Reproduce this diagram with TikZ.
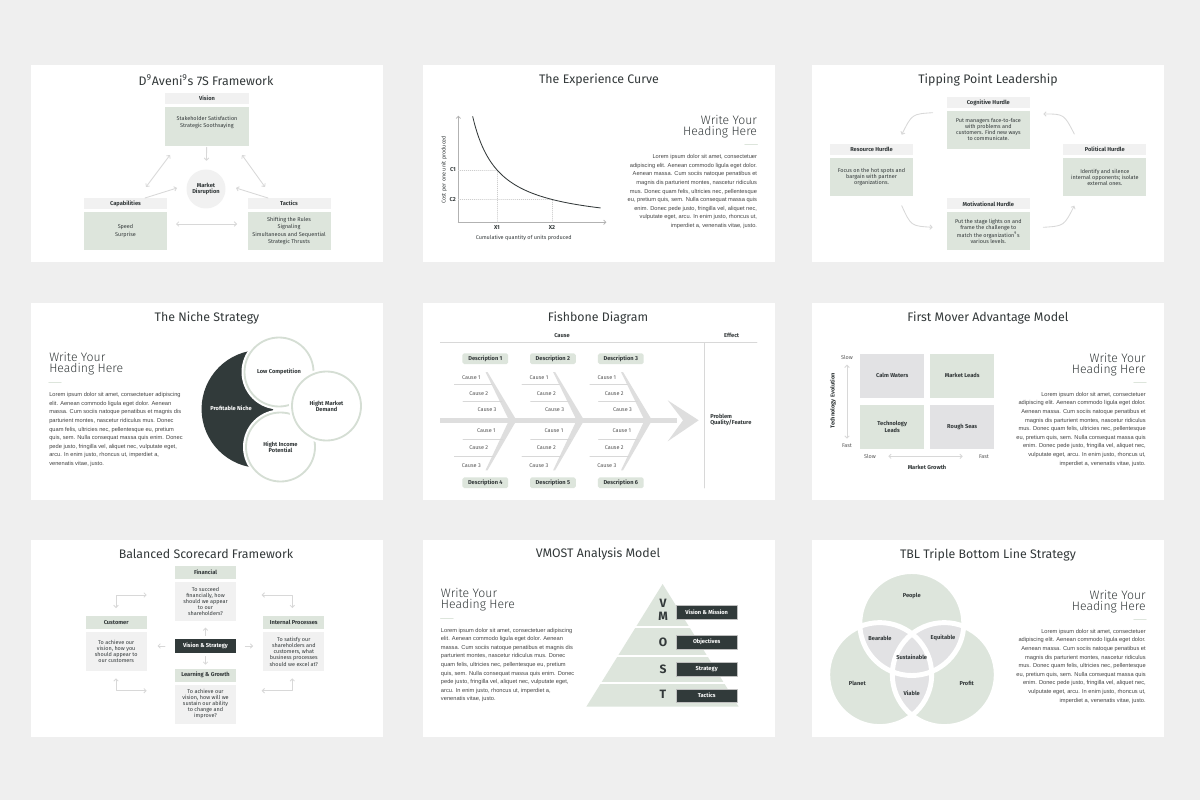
\documentclass[tikz,border=0pt]{standalone}
\usepackage{fontspec}
\setmainfont{Fira Sans}
\newfontfamily\deckLoremFamily{Liberation Sans}
\IfFontExistsTF{Fira Sans Light}
  {\newfontfamily\deckLightFamily{Fira Sans Light}}
  {\newfontfamily\deckLightFamily{Fira Sans}}
\usetikzlibrary{arrows.meta,positioning,calc}
\definecolor{deckbg}{HTML}{EFEFEF}
\definecolor{deckink}{HTML}{33393A}
\definecolor{decklorem}{HTML}{444444}
\definecolor{decksage}{HTML}{DDE5DC}
\definecolor{deckbar}{HTML}{F1F1F1}
\definecolor{deckquad}{HTML}{E2E2E4}
\definecolor{deckdark}{HTML}{313A3A}
\definecolor{deckline}{HTML}{D8D8D8}
\definecolor{deckring}{HTML}{D5DED4}
\definecolor{deckbone}{HTML}{DEDEDE}
\definecolor{deckcause}{HTML}{555555}
\newcommand{\pxu}{0.025cm}
\newcommand{\deckTitle}{\fontsize{8.8}{10}\selectfont}
\newcommand{\deckHead}{\deckLightFamily\fontsize{8.7}{7.8}\selectfont}
\newcommand{\deckLabel}{\fontsize{3.9}{4.3}\selectfont}
\newcommand{\deckLoose}{\fontsize{3.9}{5.4}\selectfont}
\newcommand{\deckTag}{\fontsize{4.05}{4.5}\selectfont\bfseries}
\newcommand{\deckLetter}{\fontsize{8.6}{9}\selectfont\bfseries}
\newcommand{\deckLorem}{\deckLoremFamily\fontsize{4.05}{6.1}\selectfont}
\newcommand{\deckApos}{\textsuperscript{9}}
\newcommand{\loremright}{Lorem ipsum dolor sit amet, consectetuer\\adipiscing elit. Aenean commodo ligula eget dolor.\\Aenean massa. Cum sociis natoque penatibus et\\magnis dis parturient montes, nascetur ridiculus\\mus. Donec quam felis, ultricies nec, pellentesque\\eu, pretium quis, sem. Nulla consequat massa quis\\enim. Donec pede justo, fringilla vel, aliquet nec,\\vulputate eget, arcu. In enim justo, rhoncus ut,\\imperdiet a, venenatis vitae, justo.}
\newcommand{\loremleft}{Lorem ipsum dolor sit amet, consectetuer adipiscing\\elit. Aenean commodo ligula eget dolor. Aenean\\massa. Cum sociis natoque penatibus et magnis dis\\parturient montes, nascetur ridiculus mus. Donec\\quam felis, ultricies nec, pellentesque eu, pretium\\quis, sem. Nulla consequat massa quis enim. Donec\\pede justo, fringilla vel, aliquet nec, vulputate eget,\\arcu. In enim justo, rhoncus ut, imperdiet a,\\venenatis vitae, justo.}

\begin{document}
\begin{tikzpicture}[x=\pxu,y=-\pxu,line cap=round,line join=round,
  >={Straight Barb[length=1.6pt,width=3.2pt]},
  font=\deckLabel,text=deckink,
  ttl/.style={font=\deckTitle,inner sep=0pt},
  heading/.style={font=\deckHead,inner sep=0pt},
  lorem/.style={font=\deckLorem,inner sep=0pt,text=decklorem},
  headrule/.style={draw=decksage,line width=0.8pt},
  tag/.style={font=\deckTag,align=center,inner sep=0pt},
  barbox/.style={fill=deckbar,inner sep=0pt,minimum width=83*\pxu,minimum height=11*\pxu,font=\deckTag},
  sagebox/.style={fill=decksage,inner sep=0pt,minimum width=83*\pxu,minimum height=38*\pxu,align=center},
  flow/.style={draw=deckline,line width=0.6pt},
  axisline/.style={draw=black!30,line width=0.5pt},
  guide/.style={draw=black!20,line width=0.4pt,densely dotted},
  ring/.style={circle,draw=deckring,line width=1.3pt,fill=white,minimum size=69*\pxu,inner sep=0pt,font=\deckTag,align=center},
  thinline/.style={draw=deckline,line width=0.4pt},
  causelab/.style={font=\deckLabel,text=deckcause,inner sep=0pt},
  descbox/.style={fill=decksage,rounded corners=1.2pt,minimum width=45.7*\pxu,minimum height=10.7*\pxu,inner sep=0pt,font=\deckTag},
  quad/.style={minimum width=63.7*\pxu,minimum height=44.3*\pxu,inner sep=0pt,font=\deckTag,align=center},
  scbar/.style={fill=decksage,minimum width=61*\pxu,minimum height=12.7*\pxu,inner sep=0pt,font=\deckTag},
  scbody/.style={fill=deckbar,minimum width=61*\pxu,minimum height=39*\pxu,inner sep=0pt,align=center},
  vmbar/.style={fill=deckdark,draw=black!25,line width=0.3pt,text=white,minimum width=61.3*\pxu,minimum height=13.3*\pxu,inner sep=0pt,font=\deckTag},
  vmletter/.style={font=\deckLetter,inner sep=0pt}]
\useasboundingbox (0,0) rectangle (1200,800);
\fill[deckbg] (0,0) rectangle (1200,800);
\foreach \sx in {31,423,812}
  \foreach \sy in {65,303,540}
    \fill[white] (\sx,\sy) rectangle ++(352,197);

% 7S framework
\begin{scope}[shift={(30,64)}]
  \node[ttl] (sevttl) at (176,16) {D\deckApos Aveni\deckApos s 7S Framework};
  \node[barbox,minimum width=84*\pxu] (visbar) at (177,34.5) {Vision};
  \node[sagebox,minimum width=84*\pxu,minimum height=39*\pxu,font=\deckLoose] (visbody) at (177,62.5) {Stakeholder Satisfaction\\Strategic Soothsaying\\[1pt]};
  \node[circle,fill=deckbar,minimum size=39*\pxu,tag] (market) at (176,125) {Market\\Disruption};
  \node[barbox] (capbar) at (95.5,139.5) {Capabilities};
  \node[sagebox,font=\deckLoose] (capbody) at (95.5,167) {Speed\\Surprise};
  \node[barbox] (tacbar) at (259,139.5) {Tactics};
  \node[sagebox,font=\deckLoose] (tacbody) at (259,167) {Shifting the Rules\\Signaling\\Simultaneous and Sequential\\Strategic Thrusts};
  \coordinate (vcl) at (140,91); \coordinate (ccv) at (116,123);
  \coordinate (vct) at (212,91); \coordinate (tcv) at (235,123);
  \coordinate (cmk) at (115,134); \coordinate (mkl) at (147,124);
  \coordinate (tmk) at (238,134); \coordinate (mkr) at (206,124);
  \coordinate (cbt) at (146,160); \coordinate (tbc) at (207,160);
  \draw[flow,->,shorten <=0.7pt,shorten >=6pt] (visbody) -- (market);
  \draw[flow,<->] (vcl) -- (ccv);
  \draw[flow,<->] (vct) -- (tcv);
  \draw[flow,->] (cmk) -- (mkl);
  \draw[flow,->] (tmk) -- (mkr);
  \draw[flow,<->] (cbt) -- (tbc);
\end{scope}

% experience curve
\begin{scope}[shift={(422,64)}]
  \node[ttl] (expttl) at (177,16) {The Experience Curve};
  \coordinate (org) at (36.3,158.3);
  \coordinate (ytop) at (36.3,51.7);
  \coordinate (xend) at (184.3,158.3);
  \coordinate (xone) at (75,105.9);
  \coordinate (xtwo) at (130,135.4);
  \draw[axisline,->] (org) -- (ytop);
  \draw[axisline,->] (org) -- (xend);
  \draw[guide] (org |- xone) -- (xone) -- (xone |- org);
  \draw[guide] (org |- xtwo) -- (xtwo) -- (xtwo |- org);
  \draw[deckink,line width=0.6pt] plot[domain=50.7:178.3,samples=80] (\x,{162.3-2820/(\x-25)});
  \node[tag,left,inner sep=1.6pt] (cone) at (org |- xone) {C1};
  \node[tag,left,inner sep=1.6pt] (ctwo) at (org |- xtwo) {C2};
  \node[tag,below,inner sep=2.4pt] (xonel) at (xone |- org) {X1};
  \node[tag,below,inner sep=2.4pt] (xtwol) at (xtwo |- org) {X2};
  \node (xlab) at (101.7,174) {Cumulative quantity of units produced};
  \node[rotate=90] (ylab) at (22,106) {Cost per one unit produced};
  \node[heading,anchor=north east,align=right] (exphead) at (335.3,50.7) {Write Your\\Heading Here};
  \draw[headrule] (323,80.7) -- (335.3,80.7);
  \node[lorem,anchor=north east,align=right] (explorem) at (335.3,90.3) {\loremright};
\end{scope}

% tipping point
\begin{scope}[shift={(811,64)}]
  \node[ttl] (tipttl) at (177,16) {Tipping Point Leadership};
  \node[barbox] (cogbar) at (177.3,38.7) {Cognitive Hurdle};
  \node[sagebox] (cogbody) at (177.3,65.7) {Put managers face-to-face\\with problems and\\customers. Find new ways\\to communicate.};
  \node[barbox] (resbar) at (60.5,85.7) {Resource Hurdle};
  \node[sagebox] (resbody) at (60.5,113) {Focus on the hot spots and\\bargain with partner\\organizations.};
  \node[barbox] (polbar) at (293.8,85.7) {Political Hurdle};
  \node[sagebox] (polbody) at (293.8,113) {Identify and silence\\internal opponents; isolate\\external ones.};
  \node[barbox] (motbar) at (177.3,140) {Motivational Hurdle};
  \node[sagebox] (motbody) at (177.3,167) {Put the stage lights on and\\frame the challenge to\\match the organization\deckApos s\\various levels.};
  \coordinate (tla) at (121.7,48.7); \coordinate (tlb) at (90.7,70.7);
  \coordinate (tra) at (263.3,70); \coordinate (trb) at (232.3,50);
  \coordinate (bla) at (90.7,141.7); \coordinate (blb) at (121.7,163.3);
  \coordinate (bra) at (232.3,163.3); \coordinate (brb) at (263.3,141.7);
  \draw[flow,->] (tla) .. controls (101,50) .. (tlb);
  \draw[flow,->] (tra) .. controls (253,50) .. (trb);
  \draw[flow,->] (bla) .. controls (100,162) .. (blb);
  \draw[flow,->] (bra) .. controls (253,162) .. (brb);
\end{scope}

% niche strategy
\begin{scope}[shift={(30,302)}]
  \node[ttl] (nichettl) at (177,15.7) {The Niche Strategy};
  \node[heading,anchor=north west,align=left] (nichehead) at (19,50.3) {Write Your\\Heading Here};
  \draw[headrule] (19,80.3) -- (31,80.3);
  \node[lorem,anchor=north west,align=left] (nichelorem) at (19,90.3) {\loremleft};
  \begin{scope}
    \clip (150,40) rectangle (243,175);
    \fill[deckdark] (230.6,107) circle[radius=59];
  \end{scope}
  \fill[white] (249,70) circle[radius=37.5];
  \node[ring] (lowcomp) at (249,70) {Low Competition};
  \fill[white] (250.5,145) circle[radius=37.5];
  \node[ring] (income) at (250.5,145) {Hight Income\\Potential};
  \fill[white] (296.5,104) circle[radius=37.5];
  \node[ring] (demand) at (296.5,104) {Hight Market\\Demand};
  \node[tag,text=white] (niche) at (201,106) {Profitable Niche};
\end{scope}

% fishbone
\begin{scope}[shift={(422,302)}]
  \node[ttl] (fishttl) at (176,16) {Fishbone Diagram};
  \node[tag] (causehd) at (140,33.7) {Cause};
  \node[tag] (effecthd) at (309.7,33.7) {Effect};
  \coordinate (topl) at (18.3,40.3); \coordinate (topr) at (335,40.3);
  \coordinate (divtop) at (282.7,40.3); \coordinate (divbot) at (282.7,186);
  \draw[thinline] (topl) -- (topr);
  \draw[thinline] (divtop) -- (divbot);
  \fill[deckbone] (18.3,116) rectangle (255,120.7);
  \fill[deckbone] (245.7,98.3) -- (276.7,118.3) -- (245.7,139.3) -- (261,118.3) -- cycle;
  \foreach \dx/\ta/\tb [count=\i] in {0/1/4,67.6/2/5,135.5/3/6} {
    \fill[deckbone] (63.5+\dx,70) -- (65.5+\dx,70) -- (94.5+\dx,118.3) -- (65.5+\dx,168.3)
      -- (63.5+\dx,168.3) -- (87+\dx,118.3) -- cycle;
    \draw[thinline] (32.3+\dx,82) -- (70+\dx,82);
    \draw[thinline] (41+\dx,99.3) -- (80+\dx,99.3);
    \draw[thinline] (41+\dx,137) -- (81+\dx,137);
    \draw[thinline] (32.3+\dx,154.3) -- (71.5+\dx,154.3);
    \node[causelab] (ua\i) at (49.3+\dx,75.7) {Cause 1};
    \node[causelab] (ub\i) at (56.7+\dx,91.7) {Cause 2};
    \node[causelab] (uc\i) at (65+\dx,107.7) {Cause 3};
    \node[causelab] (la\i) at (64.3+\dx,129) {Cause 1};
    \node[causelab] (lb\i) at (56.7+\dx,145.7) {Cause 2};
    \node[causelab] (lc\i) at (49.3+\dx,163.3) {Cause 3};
    \node[descbox] (desc\ta) at (63.3+\dx,56.7) {Description \ta};
    \node[descbox] (desc\tb) at (63.3+\dx,180.7) {Description \tb};
  }
  \node[tag,anchor=west,align=left] (problem) at (288,118.3) {Problem\\Quality/Feature};
\end{scope}

% first mover
\begin{scope}[shift={(811,302)}]
  \node[ttl] (fmttl) at (177,16) {First Mover Advantage Model};
  \node[quad,fill=deckquad] (calm) at (81.2,73.8) {Calm Waters};
  \node[quad,fill=decksage] (leads) at (151.2,73.8) {Market Leads};
  \node[quad,fill=decksage] (techl) at (81.2,124.8) {Technology\\Leads};
  \node[quad,fill=deckquad] (rough) at (151.2,124.8) {Rough Seas};
  \node[causelab] (vslow) at (36,55.7) {Slow};
  \node[causelab] (vfast) at (36,143.7) {Fast};
  \node[causelab] (hslow) at (59,154.3) {Slow};
  \node[causelab] (hfast) at (173,154.3) {Fast};
  \coordinate (vtop) at (36,62.7); \coordinate (vbot) at (36,136.7);
  \coordinate (hleft) at (77.3,154.3); \coordinate (hright) at (151.7,154.3);
  \draw[flow,<->] (vtop) -- (vbot);
  \draw[flow,<->] (hleft) -- (hright);
  \node[tag,rotate=90] (techev) at (22,99) {Technology Evolution};
  \node[tag] (mgrowth) at (116,165.7) {Market Growth};
  \node[heading,anchor=north east,align=right] (fmhead) at (335,50.7) {Write Your\\Heading Here};
  \draw[headrule] (323,80.3) -- (335,80.3);
  \node[lorem,anchor=north east,align=right] (fmlorem) at (335,90) {\loremright};
\end{scope}

% balanced scorecard
\begin{scope}[shift={(30,539)}]
  \node[ttl] (bscttl) at (176,14.7) {Balanced Scorecard Framework};
  \node[scbar] (finbar) at (175.5,33.7) {Financial};
  \node[scbody] (finbody) at (175.5,62.8) {To succeed\\financially, how\\should we appear\\to our\\shareholders?};
  \node[scbar] (custbar) at (86.2,83.7) {Customer};
  \node[scbody] (custbody) at (86.2,112.8) {To achieve our\\vision, how you\\should appear to\\our customers};
  \node[scbar] (intbar) at (263.8,83.7) {Internal Processes};
  \node[scbody] (intbody) at (263.8,112.8) {To satisfy our\\shareholders and\\customers, what\\business processes\\should we excel at?};
  \node[scbar] (learnbar) at (175.5,136.3) {Learning \& Growth};
  \node[scbody] (learnbody) at (175.5,165.3) {To achieve our\\vision, how will we\\sustain our ability\\to change and\\improve?};
  \node[scbar,fill=deckdark,text=white,minimum height=13.3*\pxu] (vstrat) at (175.5,107) {Vision \& Strategy};
  \draw[flow,->,shorten <=2.5pt,shorten >=4.3pt] (vstrat) -- (finbody);
  \draw[flow,->,shorten <=2.5pt,shorten >=2.8pt] (vstrat) -- (learnbar);
  \draw[flow,->,shorten <=7pt,shorten >=7.5pt] (vstrat.west) -- (vstrat.west -| custbody.east);
  \draw[flow,->,shorten <=6.4pt,shorten >=7pt] (vstrat.east) -- (vstrat.east -| intbody.west);
  \coordinate (tla) at (86,69); \coordinate (tlc) at (86,56); \coordinate (tlb) at (116.7,56);
  \coordinate (tra) at (231.7,56); \coordinate (trc) at (262.3,56); \coordinate (trb) at (262.3,69);
  \coordinate (bla) at (86,139.3); \coordinate (blc) at (86,151.7); \coordinate (blb) at (116.7,151.7);
  \coordinate (bra) at (231.7,151.7); \coordinate (brc) at (262.3,151.7); \coordinate (brb) at (262.3,139.3);
  \draw[flow,<->] (tla) -- (tlc) -- (tlb);
  \draw[flow,<->] (tra) -- (trc) -- (trb);
  \draw[flow,<->] (bla) -- (blc) -- (blb);
  \draw[flow,<->] (bra) -- (brc) -- (brb);
\end{scope}

% vmost pyramid
\begin{scope}[shift={(422,539)}]
  \node[ttl] (vmttl) at (176,14.7) {VMOST Analysis Model};
  \node[heading,anchor=north west,align=left] (vmhead) at (18.7,49) {Write Your\\Heading Here};
  \draw[headrule] (18.7,79.3) -- (31,79.3);
  \node[lorem,anchor=north west,align=left] (vmlorem) at (18.7,88.7) {\loremleft};
  \fill[decksage] (240.6,45) -- (316.7,167.7) -- (164.3,167.7) -- cycle;
  \foreach \gy in {88.3,116.7,143.7}
    \draw[white,line width=1.4pt] (150,\gy) -- (330,\gy);
  \node[vmletter] (lv) at (241,64.3) {V};
  \node[vmletter] (lm) at (241,77.3) {M};
  \node[vmletter] (lo) at (241,103) {O};
  \node[vmletter] (ls) at (241,130) {S};
  \node[vmletter] (lt) at (241,155.7) {T};
  \node[vmbar] (vmvis) at (284.7,73.3) {Vision \& Mission};
  \node[vmbar] (vmobj) at (284.7,103.3) {Objectives};
  \node[vmbar] (vmstr) at (284.7,130.2) {Strategy};
  \node[vmbar] (vmtac) at (284.7,156.5) {Tactics};
\end{scope}

% triple bottom line
\begin{scope}[shift={(811,539)}]
  \node[ttl] (tblttl) at (177,15.7) {TBL Triple Bottom Line Strategy};
  \coordinate (people) at (100.8,84.5);
  \coordinate (planet) at (68.7,135.6);
  \coordinate (profit) at (133.3,135.6);
  \fill[decksage] (people) circle[radius=52] (planet) circle[radius=52] (profit) circle[radius=52];
  \begin{scope}
    \clip (people) circle[radius=52];
    \fill[deckquad] (planet) circle[radius=52] (profit) circle[radius=52];
  \end{scope}
  \begin{scope}
    \clip (planet) circle[radius=52];
    \fill[deckquad] (profit) circle[radius=52];
  \end{scope}
  \draw[white,line width=3.5pt] (people) circle[radius=52] (planet) circle[radius=52] (profit) circle[radius=52];
  \node[tag] (tpeople) at (100.7,56.7) {People};
  \node[tag] (tbear) at (69,99) {Bearable};
  \node[tag] (tequi) at (132,99) {Equitable};
  \node[tag] (tsust) at (100.7,118.7) {Sustainable};
  \node[tag] (tplanet) at (46.3,144.7) {Planet};
  \node[tag] (tprofit) at (155.7,144.7) {Profit};
  \node[tag] (tviable) at (100.7,154.7) {Viable};
  \node[heading,anchor=north east,align=right] (tblhead) at (335,50.7) {Write Your\\Heading Here};
  \draw[headrule] (323,80.3) -- (335,80.3);
  \node[lorem,anchor=north east,align=right] (tbllorem) at (335,90) {\loremright};
\end{scope}
\end{tikzpicture}
\end{document}
